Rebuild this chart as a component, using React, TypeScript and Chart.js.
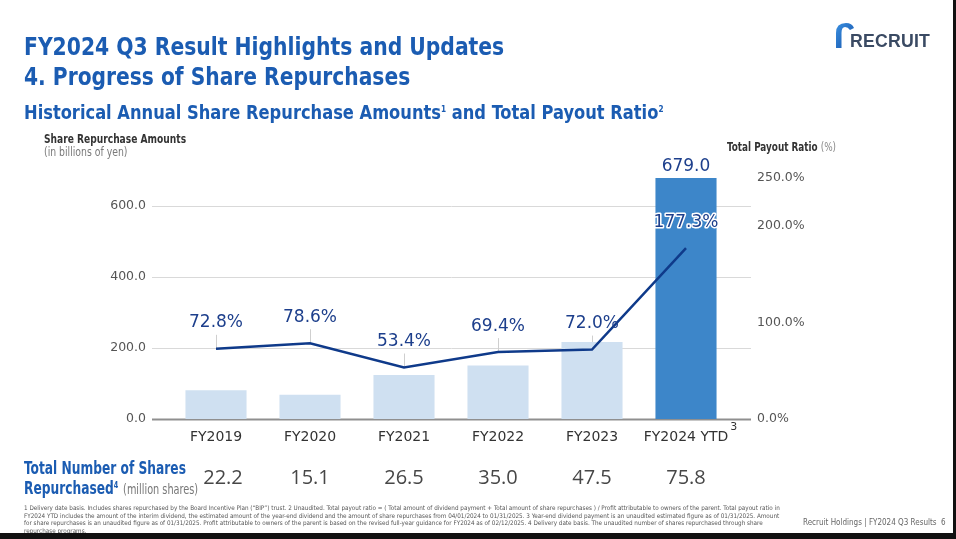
import React, { useEffect, useRef } from "react";
import { Chart, registerables } from "chart.js";

Chart.register(...registerables);

// ---- data ----
const categories = ["FY2019", "FY2020", "FY2021", "FY2022", "FY2023", "FY2024 YTD"];
const repurchaseAmounts = [81, 68, 124, 151, 217, 679.0];
const payoutRatios = [72.8, 78.6, 53.4, 69.4, 72.0, 177.3];
const sharesRepurchased = [22.2, 15.1, 26.5, 35.0, 47.5, 75.8];
const leftTicks = [0, 200, 400, 600];
const rightTicks = [0, 100, 200, 250];
const labelledBarIndex = 5;

const footnotes = [
  "1 Delivery date basis. Includes shares repurchased by the Board Incentive Plan (\u201cBIP\u201d) trust. 2 Unaudited. Total payout ratio = ( Total amount of dividend payment + Total amount of share repurchases ) / Profit attributable to owners of the parent. Total payout ratio in",
  "FY2024 YTD includes the amount of the interim dividend, the estimated amount of the year-end dividend and the amount of share repurchases from 04/01/2024 to 01/31/2025. 3 Year-end dividend payment is an unaudited estimated figure as of 01/31/2025. Amount",
  "for share repurchases is an unaudited figure as of 01/31/2025. Profit attributable to owners of the parent is based on the revised full-year guidance for FY2024 as of 02/12/2025. 4 Delivery date basis. The unaudited number of shares repurchased through share",
  "repurchase programs.",
];

const BLUE = "#1b5cb2";
const LABEL_BLUE = "#1d3f8c";
const LINE_BLUE = "#0f3a8a";
const NARROW = "'Liberation Sans Narrow', 'DejaVu Sans Condensed', Arial, sans-serif";
const DEJAVU = "'DejaVu Sans', Verdana, sans-serif";

const overlayPlugin = {
  id: "overlay",
  beforeDatasetsDraw(chart: any) {
    const { ctx, chartArea, scales } = chart;
    const y = scales.y;
    const x0 = chartArea.left - 17;
    const x1 = chartArea.right + 18;
    ctx.save();
    leftTicks.forEach((v) => {
      const py = Math.round(y.getPixelForValue(v)) + 0.5;
      ctx.beginPath();
      ctx.strokeStyle = v === 0 ? "#8f8f8f" : "#d9d9d9";
      ctx.lineWidth = v === 0 ? 2 : 1;
      ctx.moveTo(x0, py);
      ctx.lineTo(x1, py);
      ctx.stroke();
    });
    // leader lines
    const meta = chart.getDatasetMeta(1);
    meta.data.forEach((pt: any, i: number) => {
      if (i === labelledBarIndex) return;
      const px = Math.round(pt.x) + 0.5;
      ctx.beginPath();
      ctx.strokeStyle = "#cfcfcf";
      ctx.lineWidth = 1;
      ctx.moveTo(px, pt.y - 14);
      ctx.lineTo(px, pt.y - 1);
      ctx.stroke();
    });
    ctx.restore();
  },
  afterDatasetsDraw(chart: any) {
    const { ctx, scales } = chart;
    const x = scales.x;
    ctx.save();
    // bar value label
    const barMeta = chart.getDatasetMeta(0);
    const bar = barMeta.data[labelledBarIndex];
    ctx.font = `17px ${DEJAVU}`;
    ctx.textAlign = "center";
    ctx.textBaseline = "middle";
    ctx.fillStyle = LABEL_BLUE;
    ctx.fillText(repurchaseAmounts[labelledBarIndex].toFixed(1), bar.x, bar.y - 11);
    // line labels
    const lineMeta = chart.getDatasetMeta(1);
    lineMeta.data.forEach((pt: any, i: number) => {
      const txt = payoutRatios[i].toFixed(1) + "%";
      const ty = pt.y - 26;
      if (i === labelledBarIndex) {
        ctx.lineWidth = 3;
        ctx.strokeStyle = "#ffffff";
        ctx.lineJoin = "round";
        ctx.strokeText(txt, pt.x, ty);
      }
      ctx.fillStyle = LABEL_BLUE;
      ctx.fillText(txt, pt.x, ty);
    });
    // superscript 3 after last category label
    ctx.font = `14px ${DEJAVU}`;
    const w = ctx.measureText(categories[5]).width;
    ctx.font = `11px ${DEJAVU}`;
    ctx.fillStyle = "#333333";
    ctx.textAlign = "left";
    ctx.fillText("3", x.getPixelForValue(5) + w / 2 + 2, 427);
    // shares repurchased row
    ctx.font = `20px 'Open Sans', sans-serif`;
    ctx.fillStyle = "#474747";
    ctx.textAlign = "center";
    sharesRepurchased.forEach((v, i) => {
      ctx.fillText(v.toFixed(1), x.getPixelForValue(i) + (i === 0 ? 7 : 0), 478);
    });
    ctx.restore();
  },
};

function ChartCanvas() {
  const ref = useRef<HTMLCanvasElement>(null);
  useEffect(() => {
    if (!ref.current) return;
    const chart = new Chart(ref.current, {
      type: "bar",
      data: {
        labels: categories,
        datasets: [
          {
            type: "bar",
            data: repurchaseAmounts,
            backgroundColor: repurchaseAmounts.map((_, i) =>
              i === labelledBarIndex ? "#3d86c9" : "#cfe0f1"
            ),
            borderWidth: 0,
            barPercentage: 0.65,
            categoryPercentage: 1,
            yAxisID: "y",
            order: 2,
          } as any,
          {
            type: "line",
            data: payoutRatios,
            borderColor: LINE_BLUE,
            borderWidth: 2.5,
            pointRadius: 0,
            tension: 0,
            fill: false,
            yAxisID: "y1",
            order: 1,
          } as any,
        ],
      },
      options: {
        responsive: false,
        animation: false,
        devicePixelRatio: 1,
        layout: { padding: { top: 178, left: 0, right: 0, bottom: 0 } },
        plugins: { legend: { display: false }, tooltip: { enabled: false } },
        scales: {
          x: {
            type: "category",
            offset: true,
            grid: { display: false, drawTicks: false },
            border: { display: false },
            ticks: {
              padding: 10,
              color: "#333333",
              font: { family: "DejaVu Sans", size: 14 },
              maxRotation: 0,
              autoSkip: false,
            },
            afterFit: (s: any) => {
              s.height = 120;
            },
          },
          y: {
            position: "left",
            min: 0,
            max: 679,
            grid: { display: false, drawTicks: false },
            border: { display: false },
            afterBuildTicks: (s: any) => {
              s.ticks = leftTicks.map((v) => ({ value: v }));
            },
            ticks: {
              padding: 23,
              color: "#555555",
              font: { family: "DejaVu Sans", size: 12.5 },
              callback: (v: any) => Number(v).toFixed(1),
            },
            afterFit: (s: any) => {
              s.width = 169;
            },
          },
          y1: {
            position: "right",
            min: 0,
            max: 250,
            grid: { display: false, drawTicks: false },
            border: { display: false },
            afterBuildTicks: (s: any) => {
              s.ticks = rightTicks.map((v) => ({ value: v }));
            },
            ticks: {
              padding: 24,
              color: "#555555",
              font: { family: "DejaVu Sans", size: 12.5 },
              callback: (v: any) => Number(v).toFixed(1) + "%",
            },
            afterFit: (s: any) => {
              s.width = 223;
            },
          },
        },
      },
      plugins: [overlayPlugin],
    });
    return () => chart.destroy();
  }, []);
  return (
    <canvas
      ref={ref}
      width={956}
      height={539}
      style={{ position: "absolute", left: 0, top: 0, width: 956, height: 539 }}
    />
  );
}

const abs = (
  left: number,
  top: number,
  size: number,
  extra: React.CSSProperties = {},
  sx = 1
): React.CSSProperties => ({
  position: "absolute",
  left,
  top,
  fontSize: size,
  lineHeight: `${size}px`,
  whiteSpace: "nowrap",
  fontFamily: NARROW,
  transform: sx !== 1 ? `scaleX(${sx})` : undefined,
  transformOrigin: "left center",
  ...extra,
});

const supStyle: React.CSSProperties = { fontSize: 9, verticalAlign: "top", lineHeight: "14px" };

export default function App() {
  return (
    <div
      style={{
        position: "absolute",
        left: 0,
        top: 0,
        width: 956,
        height: 539,
        overflow: "hidden",
        background: "#ffffff",
      }}
    >
      <ChartCanvas />
      <div style={abs(24, 34, 25, { color: BLUE, fontWeight: 700 }, 0.904)}>
        FY2024 Q3 Result Highlights and Updates
      </div>
      <div style={abs(24, 64, 25, { color: BLUE, fontWeight: 700 }, 0.9)}>
        4. Progress of Share Repurchases
      </div>
      <div style={abs(24, 102, 20, { color: BLUE, fontWeight: 700 }, 0.905)}>
        Historical Annual Share Repurchase Amounts<sup style={supStyle}>1</sup> and Total Payout
        Ratio<sup style={supStyle}>2</sup>
      </div>
      {/* logo */}
      <svg
        width={110}
        height={36}
        style={{ position: "absolute", left: 834, top: 20 }}
        viewBox="0 0 110 36"
      >
        <defs>
          <linearGradient id="lg" x1="0" y1="0" x2="1" y2="1">
            <stop offset="0" stopColor="#3a8fe0" />
            <stop offset="1" stopColor="#1553aa" />
          </linearGradient>
        </defs>
        <path
          d="M2 28 L2 13 Q2 3 12 3 Q18 3 20 8 L16 10 Q14 7 11 7 Q7.5 7 7.5 13 L7.5 28 Z"
          fill="url(#lg)"
        />
        <text
          x={16}
          y={27}
          fontFamily="'Liberation Sans', Arial, sans-serif"
          fontWeight={700}
          fontSize={18}
          fill="#3a4a63"
          letterSpacing={0.2}
          textLength={80}
          lengthAdjust="spacingAndGlyphs"
        >
          RECRUIT
        </text>
      </svg>
      <div style={abs(44, 133, 12.5, { color: "#333333", fontWeight: 700 }, 0.81)}>
        Share Repurchase Amounts
      </div>
      <div style={abs(44, 147, 11.5, { color: "#7a7a7a" }, 0.9)}>(in billions of yen)</div>
      <div style={abs(727, 141, 12, { color: "#333333", fontWeight: 700 }, 0.82)}>
        Total Payout Ratio <span style={{ fontWeight: 400, color: "#888888" }}>(%)</span>
      </div>
      <div style={abs(24, 460, 17, { color: BLUE, fontWeight: 700 }, 0.8)}>
        Total Number of Shares
      </div>
      <div style={abs(24, 480, 17, { color: BLUE, fontWeight: 700 }, 0.8)}>
        Repurchased
        <sup style={{ fontSize: 9, verticalAlign: "top", lineHeight: "10px" }}>4</sup>
        <span style={{ fontWeight: 400, fontSize: 13.5, color: "#777777", marginLeft: 6 }}>
          (million shares)
        </span>
      </div>
      {footnotes.map((t, i) => (
        <div key={i} style={abs(24, 505 + i * 7.5, 6.3, { color: "#555555" })}>
          {t}
        </div>
      ))}
      <div style={abs(803, 519, 8, { color: "#666666" })}>
        Recruit Holdings | FY2024 Q3 Results &nbsp;6
      </div>
      <div
        style={{ position: "absolute", left: 0, top: 533, width: 956, height: 6, background: "#111" }}
      />
      <div
        style={{ position: "absolute", left: 953, top: 0, width: 3, height: 539, background: "#111" }}
      />
    </div>
  );
}
